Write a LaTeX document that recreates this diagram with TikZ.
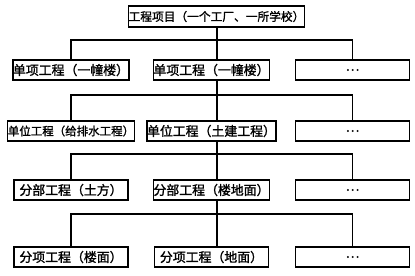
\documentclass[tikz,border=0pt]{standalone}
\usepackage{fontspec}
\setmainfont{Noto Sans CJK SC}[FakeBold=1.4]
\usetikzlibrary{positioning}

\begin{document}
\begin{tikzpicture}[x=0.03cm, y=-0.03cm,
    unit/.style={rectangle, draw=black, line width=1pt, minimum width=3.42cm,
                 minimum height=0.6cm, inner sep=0pt,
                 font=\fontsize{11}{12}\selectfont},
    link/.style={draw=black, line width=0.9pt}
  ]
  \useasboundingbox (0,0) rectangle (415,275);

  % project
  \node[unit, minimum width=5.01cm, minimum height=0.63cm,
        font=\fontsize{10}{11}\selectfont] (proj) at (216.5,16.5)
    {工程项目（一个工厂、一所学校）};

  % single projects
  \node[unit] (sp1) at (71,70)    {单项工程（一幢楼）};
  \node[unit] (sp2) at (211.5,70) {单项工程（一幢楼）};
  \node[unit] (sp3) at (352.5,70) {…};

  % unit projects
  \node[unit, font=\fontsize{9.8}{11}\selectfont] (up1) at (71,131)
    {单位工程（给排水工程）};
  \node[unit] (up2) at (211.5,131) {单位工程（土建工程）};
  \node[unit] (up3) at (352.5,131) {…};

  % divisions
  \node[unit] (dp1) at (71,190)    {分部工程（土方）};
  \node[unit] (dp2) at (211.5,190) {分部工程（楼地面）};
  \node[unit] (dp3) at (352.5,190) {…};

  % subdivisions
  \node[unit] (ip1) at (71,257)    {分项工程（楼面）};
  \node[unit] (ip2) at (211.5,257) {分项工程（地面）};
  \node[unit] (ip3) at (352.5,257) {…};

  % spine and buses
  \coordinate (spine) at (217,0);
  \coordinate (bus1) at (0,40);
  \coordinate (bus2) at (0,95);
  \coordinate (bus3) at (0,154);
  \coordinate (bus4) at (0,214);

  \draw[link] (spine |- proj.south) -- (spine |- sp2.north);
  \draw[link] (sp1.north) -- (sp1.north |- bus1) -- (sp3.north |- bus1) -- (sp3.north);

  \draw[link] (spine |- sp2.south) -- (spine |- up2.north);
  \draw[link] (up1.north) -- (up1.north |- bus2) -- (up3.north |- bus2) -- (up3.north);

  \draw[link] (spine |- up2.south) -- (spine |- dp2.north);
  \draw[link] (dp1.north) -- (dp1.north |- bus3) -- (dp3.north |- bus3) -- (dp3.north);

  \draw[link] (spine |- dp2.south) -- (spine |- ip2.north);
  \draw[link] (ip1.north) -- (ip1.north |- bus4) -- (ip3.north |- bus4) -- (ip3.north);
\end{tikzpicture}
\end{document}
